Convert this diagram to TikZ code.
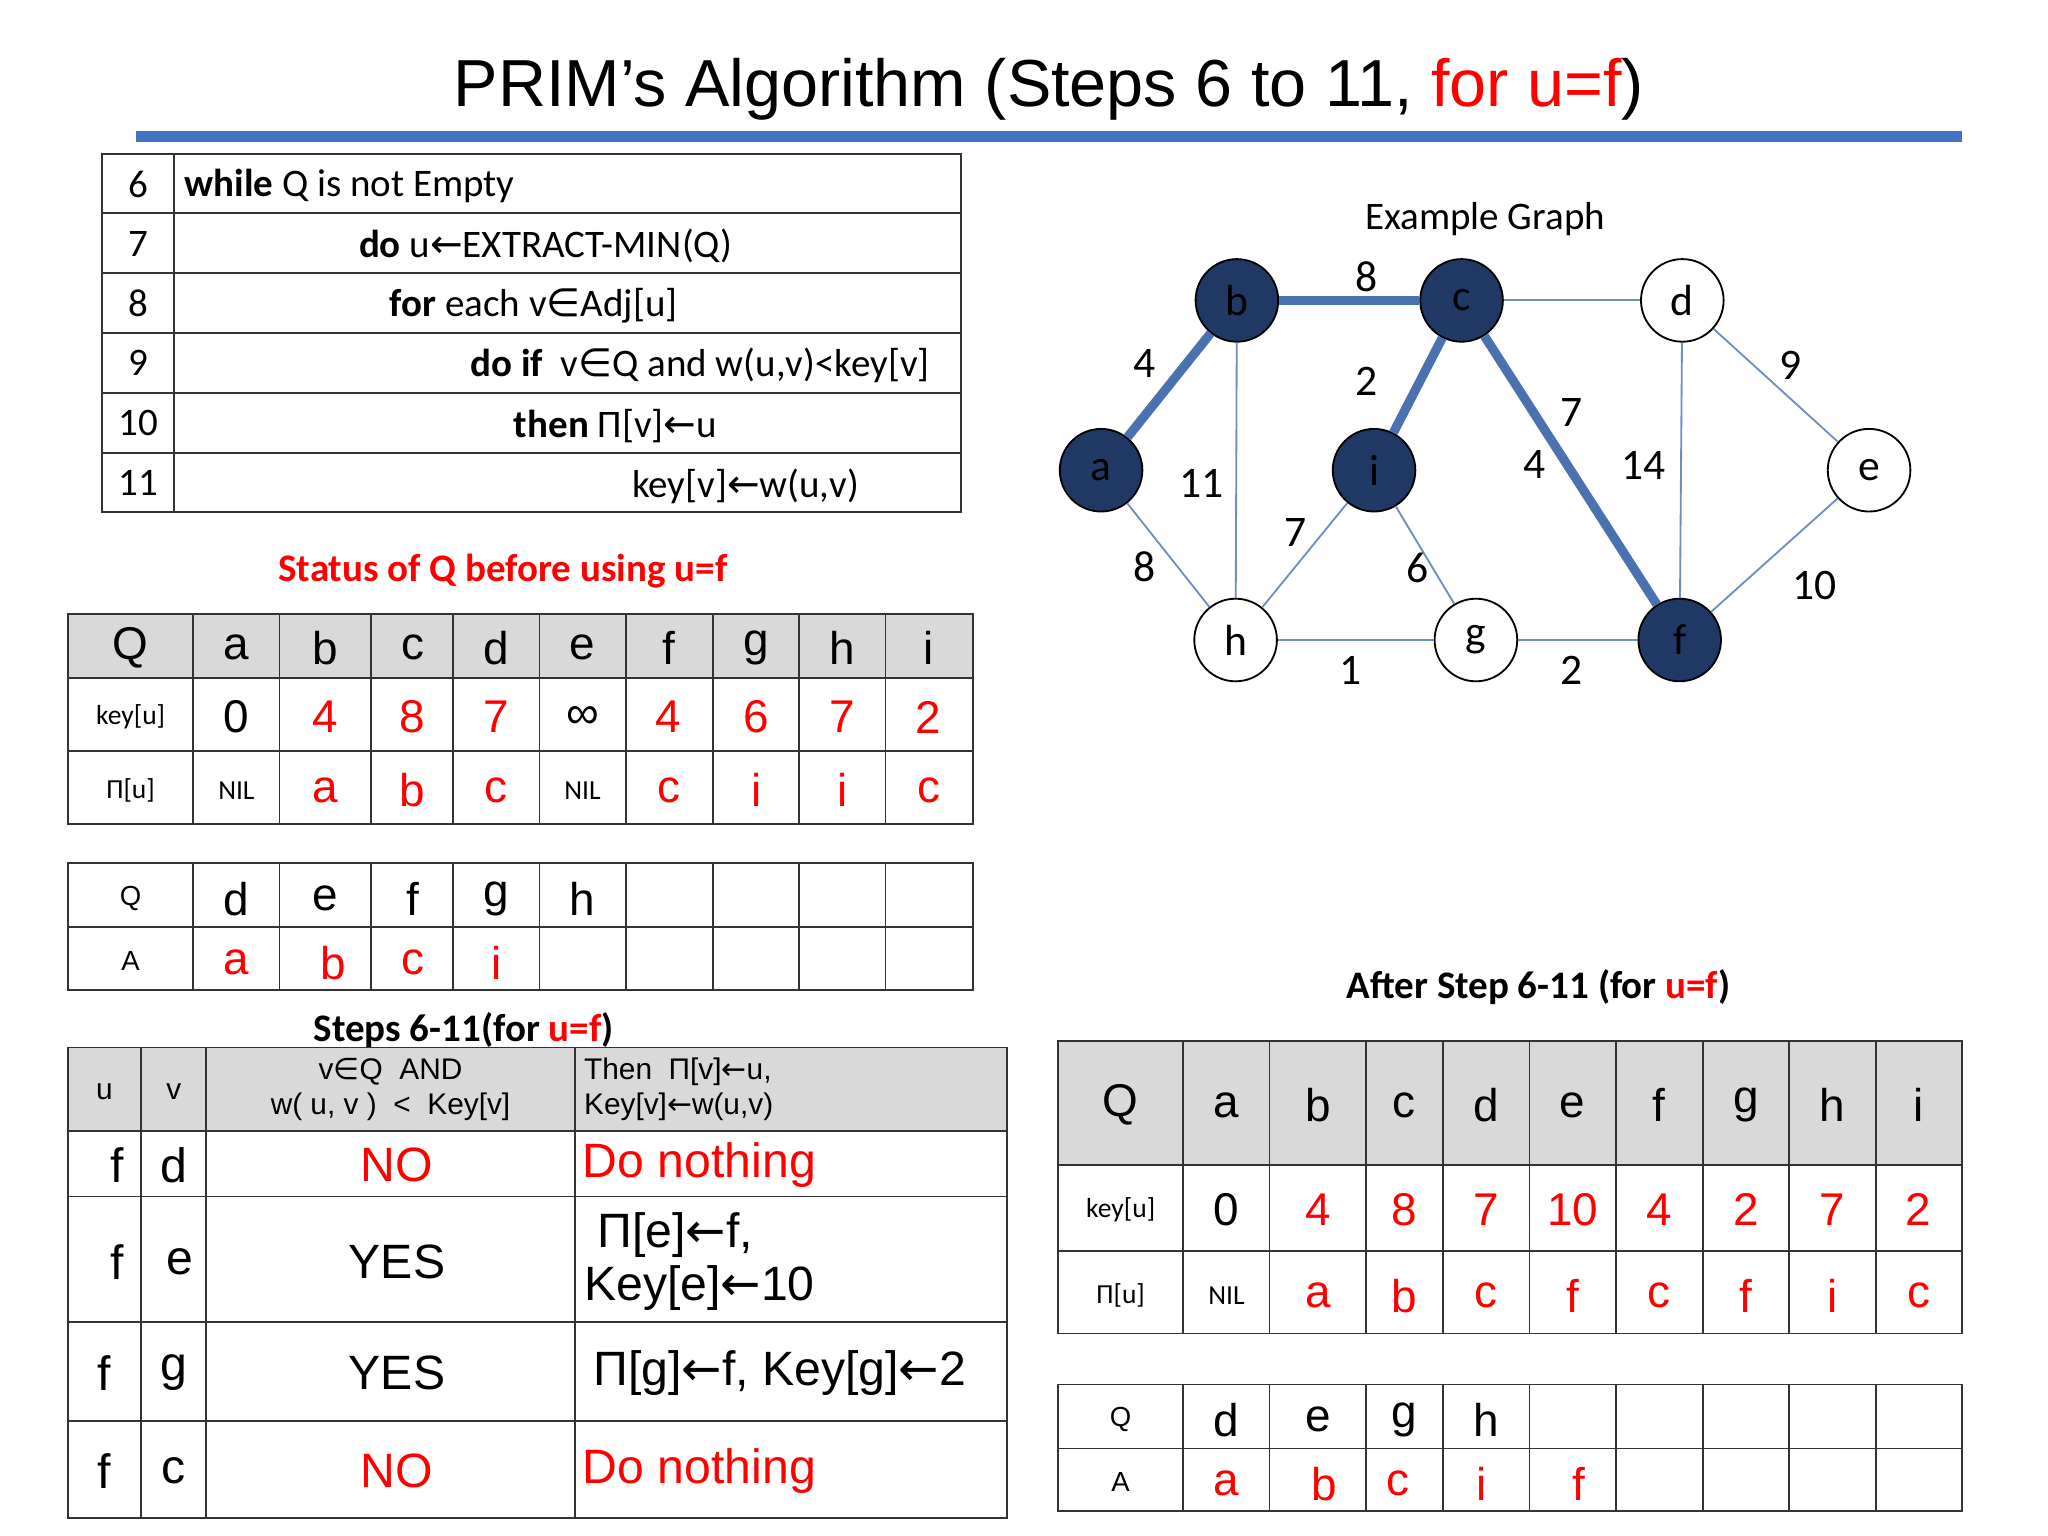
\documentclass[tikz,border=0pt]{standalone}
\usepackage{fontspec}
\setmainfont{Carlito}
\newfontfamily\ar{Liberation Sans}
\newfontfamily\dv{DejaVu Sans}
\newcommand{\la}{{\dv\char"2190}}
\newcommand{\inn}{{\dv\char"2208}}
\definecolor{tblue}{HTML}{4472C4}
\definecolor{navy}{HTML}{1F3864}
\definecolor{edg}{HTML}{4A72B0}
\definecolor{hdr}{HTML}{D9D9D9}
\tikzset{
  grid/.style={draw=black!80,line width=0.8pt},
  vx/.style={circle,draw=black,line width=0.8pt,minimum size=36pt,inner sep=0pt,font=\fontsize{19}{19}\selectfont},
  dk/.style={vx,fill=navy},
  wh/.style={vx,fill=white},
  thin/.style={draw=edg!80,line width=0.8pt},
  thick/.style={draw=edg,line width=4pt},
  wl/.style={font=\fontsize{19}{19}\selectfont},
  rd/.style={text=red},
}
\begin{document}
\begin{tikzpicture}[x=0.02cm,y=-0.02cm]
\useasboundingbox (0,0) rectangle (1568,1176);
\node (title) at (803,68) {\ar\fontsize{29}{29}\selectfont PRIM’s Algorithm (Steps 6 to 11, \textcolor{red}{for u=f})};
\fill[tblue] (104,100) rectangle (1502,109);
% pseudocode
\draw[grid] (78,118) rectangle (736,392);
\foreach \y in {163,209,255,301,347} \draw[grid] (78,\y) -- (736,\y);
\draw[grid] (133,118) -- (133,392);
\foreach \n/\y in {6/141,7/187,8/232,9/278,10/324,11/370} \node[font=\fontsize{17}{17}\selectfont] at (106,\y) {\n};
\begin{scope}[every node/.style={font=\fontsize{17}{17}\selectfont}]
\node[anchor=west] (p6) at (135,142) {\textbf{while} Q is not Empty};
\node[anchor=east] (p7) at (567,188) {\textbf{do} u\la EXTRACT-MIN(Q)};
\node[anchor=east] (p8) at (525,234) {\textbf{for} each v\inn Adj[u]};
\node[anchor=east] (p9) at (718,280) {\textbf{do if}\ \ v\inn Q and w(u,v)<key[v]};
\node[anchor=east] (p10) at (555,326) {\textbf{then} Π[v]\la u};
\node[anchor=east] (p11) at (664,372) {key[v]\la w(u,v)};
\end{scope}
\node[rd,font=\bfseries\fontsize{17}{17}\selectfont] (st) at (385,437) {Status of Q before using u=f};
% status table
\fill[hdr] (52,470) rectangle (745,519);
\draw[grid] (52,470) rectangle (745,631);
\foreach \y in {519,575} \draw[grid] (52,\y) -- (745,\y);
\foreach \x in {148,214,284,347,413,479,546,612,678} \draw[grid] (\x,470) -- (\x,631);
\begin{scope}[every node/.style={font=\ar\fontsize{20}{20}\selectfont}]
\foreach \t/\x in {Q/100,a/181,b/249,c/316,d/380,e/446,f/512,g/579,h/645,i/711} \node at (\x,496) {\t};
\node at (181,549) {0};
\foreach \t/\x in {4/249,8/316,7/380,4/512,6/579,7/645,2/711} \node[rd] at (\x,549) {\t};
\node at (446,549) {∞};
\foreach \t/\x in {a/249,b/316,c/380,c/512,i/579,i/645,c/711} \node[rd] at (\x,605) {\t};
\end{scope}
\node[font=\fontsize{12}{12}\selectfont] at (100,549) {key[u]};
\node[font=\fontsize{12}{12}\selectfont] at (100,605) {Π[u]};
\node[font=\fontsize{12}{12}\selectfont] at (181,605) {NIL};
\node[font=\fontsize{12}{12}\selectfont] at (446,605) {NIL};
% Q/A table
\draw[grid] (52,661) rectangle (745,758);
\draw[grid] (52,710) -- (745,710);
\foreach \x in {148,214,284,347,413,479,546,612,678} \draw[grid] (\x,661) -- (\x,758);
\begin{scope}[every node/.style={font=\ar\fontsize{20}{20}\selectfont}]
\foreach \t/\x in {d/181,e/249,f/316,g/380,h/446} \node at (\x,688) {\t};
\foreach \t/\x in {a/181,b/255,c/316,i/380} \node[rd] at (\x,737) {\t};
\end{scope}
\node[font=\ar\fontsize{12}{12}\selectfont] at (100,688) {Q};
\node[font=\ar\fontsize{12}{12}\selectfont] at (100,736) {A};
% steps table
\node[font=\bfseries\fontsize{17}{17}\selectfont] (sh) at (355,789) {Steps 6-11(for \textcolor{red}{u=f})};
\fill[hdr] (52,802) rectangle (771,866);
\draw[grid] (52,802) rectangle (771,1162);
\foreach \y in {866,916,1012,1088} \draw[grid] (52,\y) -- (771,\y);
\foreach \x in {108,158,440} \draw[grid] (\x,802) -- (\x,1162);
\begin{scope}[every node/.style={font=\ar\fontsize{13}{15}\selectfont}]
\node at (80,836) {u};
\node at (133,836) {v};
\node[align=center] at (299,834) {v\inn Q\ \ AND\\ w( u, v )\ \ <\ \ Key[v]};
\node[align=left,anchor=west] at (441,834) {Then\ \ Π[v]\la u,\\Key[v]\la w(u,v)};
\end{scope}
\begin{scope}[every node/.style={font=\ar\fontsize{21}{23}\selectfont}]
\node at (90,892) {f}; \node at (133,892) {d};
\node[rd] at (304,892) {NO};
\node[rd,anchor=west] at (440,892) {Do nothing};
\node at (90,966) {f}; \node at (138,966) {e};
\node at (304,966) {YES};
\node[align=left,anchor=west] at (441,966) {\ Π[e]\la f,\\Key[e]\la 10};
\node at (80,1051) {f}; \node at (133,1051) {g};
\node at (304,1051) {YES};
\node[anchor=west] at (448,1051) {Π[g]\la f, Key[g]\la 2};
\node at (80,1126) {f}; \node at (133,1126) {c};
\node[rd] at (304,1126) {NO};
\node[rd,anchor=west] at (440,1126) {Do nothing};
\end{scope}
% after table
\node[font=\bfseries\fontsize{17}{17}\selectfont] (ah) at (1178,756) {After Step 6-11 (for \textcolor{red}{u=f})};
\fill[hdr] (810,797) rectangle (1502,892);
\draw[grid] (810,797) rectangle (1502,1021);
\foreach \y in {892,958} \draw[grid] (810,\y) -- (1502,\y);
\foreach \x in {906,972,1046,1105,1171,1237,1304,1370,1436} \draw[grid] (\x,797) -- (\x,1021);
\begin{scope}[every node/.style={font=\ar\fontsize{20}{20}\selectfont}]
\foreach \t/\x in {Q/858,a/939,b/1009,c/1075,d/1138,e/1204,f/1270,g/1337,h/1403,i/1469} \node at (\x,846) {\t};
\node at (939,926) {0};
\foreach \t/\x in {4/1009,8/1075,7/1138,10/1204,4/1270,2/1337,7/1403,2/1469} \node[rd] at (\x,926) {\t};
\foreach \t/\x in {a/1009,b/1075,c/1138,f/1204,c/1270,f/1337,i/1403,c/1469} \node[rd] at (\x,992) {\t};
\end{scope}
\node[font=\fontsize{12}{12}\selectfont] at (858,926) {key[u]};
\node[font=\fontsize{12}{12}\selectfont] at (858,992) {Π[u]};
\node[font=\fontsize{12}{12}\selectfont] at (939,992) {NIL};
\draw[grid] (810,1060) rectangle (1502,1157);
\draw[grid] (810,1109) -- (1502,1109);
\foreach \x in {906,972,1046,1105,1171,1237,1304,1370,1436} \draw[grid] (\x,1060) -- (\x,1157);
\begin{scope}[every node/.style={font=\ar\fontsize{20}{20}\selectfont}]
\foreach \t/\x in {d/939,e/1009,g/1075,h/1138} \node at (\x,1087) {\t};
\foreach \t/\x in {a/939,b/1014,c/1070,i/1134,f/1209} \node[rd] at (\x,1136) {\t};
\end{scope}
\node[font=\ar\fontsize{12}{12}\selectfont] at (858,1087) {Q};
\node[font=\ar\fontsize{12}{12}\selectfont] at (858,1135) {A};
% graph
\node[font=\fontsize{17}{17}\selectfont] (eg) at (1137,168) {Example Graph};
\node[dk] (b) at (947,230) {b};
\node[dk] (c) at (1119,230) {c};
\node[wh] (d) at (1288,230) {d};
\node[dk] (a) at (843,360) {a};
\node[dk] (i) at (1052,360) {i};
\node[wh] (e) at (1431,360) {e};
\node[wh] (h) at (946,490) {h};
\node[wh] (g) at (1130,490) {g};
\node[dk] (f) at (1286,490) {f};
\begin{scope}[on background layer/.try]
\end{scope}
\draw[thin] (b) -- (h); \draw[thin] (a) -- (h); \draw[thin] (h) -- (i);
\draw[thin] (i) -- (g); \draw[thin] (h) -- (g); \draw[thin] (g) -- (f);
\draw[thin] (c) -- (d); \draw[thin] (d) -- (f); \draw[thin] (d) -- (e); \draw[thin] (e) -- (f);
\draw[thick] (a) -- (b); \draw[thick] (b) -- (c); \draw[thick] (c) -- (i); \draw[thick] (c) -- (f);
\foreach \t/\x/\y in {8/1046/212,4/876/278,2/1046/292,7/1203/316,4/1175/356,14/1258/356,9/1371/280,11/920/370,7/992/408,8/876/434,6/1085/435,10/1389/448,1/1034/513,2/1203/513}
  \node[wl] at (\x,\y) {\t};
\end{tikzpicture}
\end{document}
